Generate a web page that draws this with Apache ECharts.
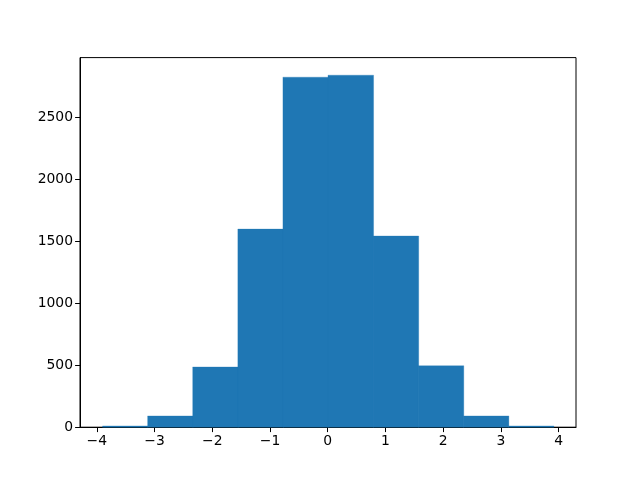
<!DOCTYPE html>
<html>
<head>
<meta charset="utf-8">
<script src="https://cdn.jsdelivr.net/npm/echarts@6/dist/echarts.min.js"></script>
<style>html,body{margin:0;padding:0;background:#fff}#c{width:640px;height:480px}</style>
</head>
<body>
<div id="c"></div>
<script>
const binEdges = [-3.901, -3.120, -2.339, -1.557, -0.776, 0.005, 0.786, 1.568, 2.349, 3.130, 3.911];
const counts = [10, 91, 486, 1599, 2825, 2841, 1543, 496, 91, 10];
const xTicks = [-4, -3, -2, -1, 0, 1, 2, 3, 4];
const yTicks = [0, 500, 1000, 1500, 2000, 2500];

const data = counts.map((c, i) => [binEdges[i], binEdges[i + 1], c]);
const fmt = v => (v < 0 ? '\u2212' + Math.abs(v) : String(v));
const font = { fontFamily: 'DejaVu Sans', fontSize: 13.9, color: '#000' };

const chart = echarts.init(document.getElementById('c'), null, { renderer: 'canvas' });
chart.setOption({
  animation: false,
  backgroundColor: '#fff',
  grid: { left: 80, right: 64, top: 57.6, bottom: 52.8, show: true, borderColor: '#000', borderWidth: 1, backgroundColor: 'transparent' },
  xAxis: {
    type: 'value', min: -4.292, max: 4.302,
    axisLine: { show: true, onZero: false, lineStyle: { color: '#000', width: 1 } },
    axisTick: { show: true, customValues: xTicks, length: 4.9, lineStyle: { color: '#000', width: 1 } },
    axisLabel: Object.assign({ customValues: xTicks, margin: 7, formatter: fmt }, font),
    splitLine: { show: false }
  },
  yAxis: {
    type: 'value', min: 0, max: 2983,
    axisLine: { show: true, onZero: false, lineStyle: { color: '#000', width: 1 } },
    axisTick: { show: true, customValues: yTicks, length: 4.9, lineStyle: { color: '#000', width: 1 } },
    axisLabel: Object.assign({ customValues: yTicks, margin: 7, formatter: fmt }, font),
    splitLine: { show: false }
  },
  series: [{
    type: 'custom',
    data: data,
    encode: { x: [0, 1], y: 2 },
    z: 1,
    renderItem: function (params, api) {
      const p0 = api.coord([api.value(0), 0]);
      const p1 = api.coord([api.value(1), api.value(2)]);
      return {
        type: 'rect',
        shape: { x: p0[0], y: p1[1], width: p1[0] - p0[0] + 0.5, height: p0[1] - p1[1] },
        style: { fill: '#1f77b4', stroke: '#1f77b4', lineWidth: 0.3 }
      };
    }
  }]
});
</script>
</body>
</html>
